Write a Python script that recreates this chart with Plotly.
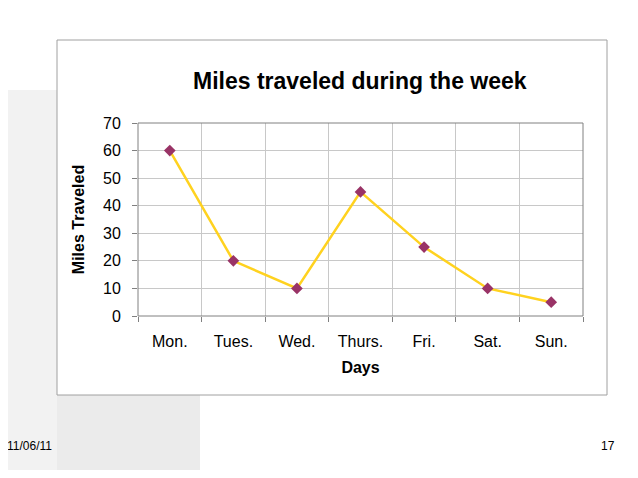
import plotly.graph_objects as go

days = ["Mon.", "Tues.", "Wed.", "Thurs.", "Fri.", "Sat.", "Sun."]
miles = [60, 20, 10, 45, 25, 10, 5]
yticks = [0, 10, 20, 30, 40, 50, 60, 70]

OFF = 8
W, H = 638 - 2 * OFF, 478 - 2 * OFF
L, R, T, B = 138 - OFF, 583 - OFF, 123 - OFF, 316 - OFF
def px(x): return (x - OFF - L) / (R - L)
def py(y): return (B - (y - OFF)) / (B - T)

xs = list(range(len(days)))
fig = go.Figure(go.Scatter(
    x=xs, y=miles, mode="lines+markers",
    line=dict(color="#FFD21F", width=2.5),
    marker=dict(symbol="diamond", size=9, color="#993366"),
))
shapes = [
    dict(type="rect", xref="paper", yref="paper", x0=px(0), x1=px(200), y0=py(478), y1=py(395),
         fillcolor="#ebebeb", line_width=0, layer="below"),
    dict(type="rect", xref="paper", yref="paper", x0=px(0), x1=px(57), y0=py(478), y1=py(90),
         fillcolor="#f2f2f2", line_width=0, layer="below"),
    dict(type="rect", xref="paper", yref="paper", x0=px(57), x1=px(607), y0=py(395), y1=py(40),
         fillcolor="white", line=dict(color="#a0a0a0", width=1), layer="below"),
    dict(type="rect", xref="paper", yref="paper", x0=0, x1=1, y0=0, y1=1,
         line=dict(color="#808080", width=1), layer="above"),
]
fig.update_layout(
    width=W, height=H, showlegend=False,
    margin=dict(l=L, r=W - R, t=T, b=H - B),
    paper_bgcolor="white", plot_bgcolor="white",
    font=dict(family="Liberation Sans, Arial", color="black", size=16),
    shapes=shapes,
    xaxis=dict(range=[-0.5, 6.5], tickvals=xs, ticktext=days, showgrid=False,
               ticks="", zeroline=False, ticklabelstandoff=14,
               minor=dict(tickvals=[i - 0.5 for i in range(8)], showgrid=True,
                          gridcolor="#c8c8c8", ticks="outside", ticklen=5, tickcolor="#808080"),
               title=dict(text="<b>Days</b>", font=dict(size=16), standoff=12)),
    yaxis=dict(range=[0, 70], tickvals=yticks, gridcolor="#c8c8c8", zeroline=False,
               ticks="outside", ticklen=5, tickcolor="#808080", ticklabelstandoff=8,
               title=dict(text="<b>Miles Traveled</b>", font=dict(size=16), standoff=14)),
    annotations=[
        dict(text="<b>Miles traveled during the week</b>", xref="paper", yref="paper",
             x=px(360), y=py(66), showarrow=False, font=dict(size=23)),
        dict(text="11/06/11", xref="paper", yref="paper", x=px(5), y=py(455),
             xanchor="left", showarrow=False, font=dict(size=12)),
        dict(text="17", xref="paper", yref="paper", x=px(617), y=py(455),
             xanchor="right", showarrow=False, font=dict(size=12)),
    ],
)
fig.write_html("out.html")
